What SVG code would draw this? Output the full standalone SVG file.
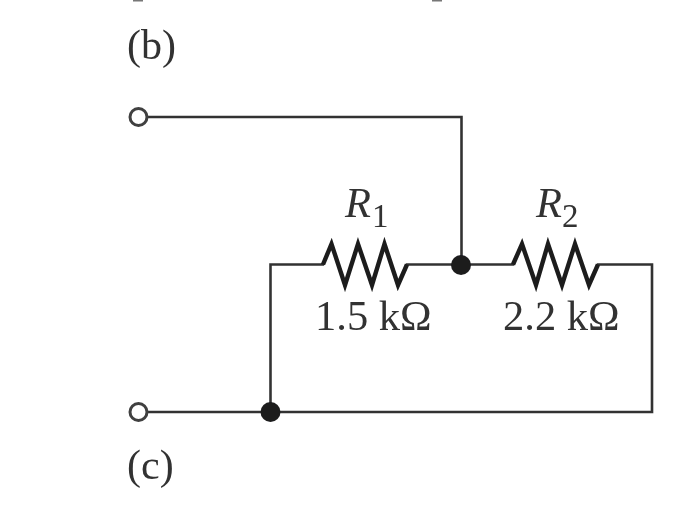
<svg xmlns="http://www.w3.org/2000/svg" width="700" height="513" viewBox="0 0 700 513">
<defs><filter id="soft" x="-5%" y="-5%" width="110%" height="110%"><feGaussianBlur stdDeviation="0.6"/></filter></defs>
<style>
.w{fill:none;stroke:#333;stroke-width:2.6;stroke-linejoin:miter}
.z{fill:none;stroke:#1c1c1c;stroke-width:4.4;stroke-linejoin:miter}
.t{font-family:"Liberation Serif",serif;fill:#333;font-size:42px}
.l{font-family:"Liberation Serif",serif;fill:#333;font-size:42.500px}
.i{font-style:italic}
.s{font-size:33px}
.o{fill:#fff;stroke:#3f3f3f;stroke-width:3}
.d{fill:#1c1c1e}
.r{fill:none;stroke:#777;stroke-width:2}
</style>
<rect width="700" height="513" fill="#fff"/>
<g filter="url(#soft)">
<path class="r" d="M133 0.500H143M432 0.500H442"/>
<g id="connectors">
<path class="w" d="M147 117H461.500V264"/>
<path class="w" d="M147 412H652V264.500H597"/>
<path class="w" d="M270.500 412V264.500H324"/>
<path class="w" d="M406 264.500H514"/>
</g>
<g id="R1">
<path class="z" d="M323 264.500L331.500 244L345 285L358 244L372 285L384.500 244L398 285L407 264.500"/>
<text class="l i" x="345" y="217">R</text><text class="l s" x="372" y="227">1</text>
<text class="l" x="315" y="330">1.5 kΩ</text>
</g>
<g id="R2">
<path class="z" d="M513 264.500L522 244L536 285L548 244L562 285L575 244L589 285L598 264.500"/>
<text class="l i" x="536" y="217">R</text><text class="l s" x="562" y="227">2</text>
<text class="l" x="503" y="330">2.2 kΩ</text>
</g>
<g id="terminal-top"><circle class="o" cx="138.500" cy="117" r="8.500"/></g>
<g id="terminal-bottom"><circle class="o" cx="138.500" cy="412" r="8.500"/></g>
<g id="junction-top"><circle class="d" cx="461" cy="265" r="10"/></g>
<g id="junction-bottom"><circle class="d" cx="270.500" cy="412" r="10"/></g>
<text class="t" x="127" y="59">(b)</text>
<text class="t" x="127" y="479">(c)</text>
</g>
</svg>
